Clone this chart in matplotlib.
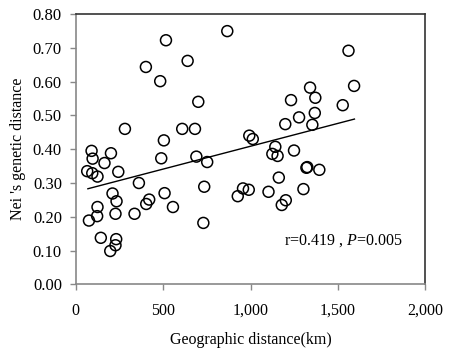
import numpy as np
import matplotlib
matplotlib.use("Agg")
import matplotlib.pyplot as plt
from matplotlib.ticker import FuncFormatter

geo_km = [65, 75, 90, 94, 96, 122, 124, 124, 143, 164, 197, 201, 210, 227, 227, 231,
          233, 243, 281, 336, 361, 401, 403, 420, 483, 489, 504, 508, 516, 556, 609,
          640, 682, 690, 701, 730, 735, 752, 867, 927, 957, 990, 993, 1013, 1103,
          1125, 1142, 1155, 1162, 1179, 1199, 1202, 1232, 1249, 1278, 1303, 1320,
          1325, 1341, 1354, 1368, 1371, 1394, 1528, 1561, 1593]
nei_dist = [0.335, 0.189, 0.395, 0.329, 0.372, 0.202, 0.229, 0.319, 0.138, 0.359,
            0.099, 0.388, 0.269, 0.116, 0.209, 0.134, 0.246, 0.333, 0.460, 0.209,
            0.300, 0.643, 0.238, 0.251, 0.601, 0.373, 0.426, 0.270, 0.722, 0.229,
            0.460, 0.661, 0.460, 0.378, 0.540, 0.182, 0.289, 0.362, 0.749, 0.261,
            0.284, 0.280, 0.440, 0.430, 0.274, 0.386, 0.407, 0.380, 0.316, 0.235,
            0.474, 0.249, 0.545, 0.396, 0.494, 0.282, 0.345, 0.347, 0.582, 0.472,
            0.507, 0.552, 0.339, 0.530, 0.691, 0.587]
trend_x = [69, 1595]
trend_y = [0.283, 0.489]
x_ticks = [0, 500, 1000, 1500, 2000]
y_ticks = [0.0, 0.1, 0.2, 0.3, 0.4, 0.5, 0.6, 0.7, 0.8]
annotation = "r=0.419 , $\\it{P}$=0.005"

plt.rcParams['font.family'] = ['Liberation Serif', 'DejaVu Serif']
plt.rcParams['mathtext.fontset'] = 'custom'
plt.rcParams['mathtext.it'] = 'Liberation Serif:italic'
plt.rcParams['mathtext.rm'] = 'Liberation Serif'

fig = plt.figure(figsize=(4.74, 3.51), dpi=100)
ax = fig.add_axes([0.160, 0.1895, 0.737, 0.771])

ax.scatter(geo_km, nei_dist, s=62, facecolors='none', edgecolors='black', linewidths=1.1, zorder=3)
ax.plot(trend_x, trend_y, color='black', linewidth=1.0, zorder=2)

ax.set_xlim(0, 2000)
ax.set_ylim(0, 0.8)
ax.set_xticks(x_ticks)
ax.set_yticks(y_ticks)
ax.xaxis.set_major_formatter(FuncFormatter(lambda v, p: f"{int(v):,}"))
ax.yaxis.set_major_formatter(FuncFormatter(lambda v, p: f"{v:.2f}"))
ax.tick_params(direction='out', length=4, width=1.0, colors='#888888', labelcolor='black')
ax.tick_params(axis='x', pad=9, labelsize=11.5)
ax.tick_params(axis='y', pad=6, labelsize=12)

for side in ['left', 'bottom']:
    ax.spines[side].set_color('#888888')
    ax.spines[side].set_linewidth(1.2)
for side in ['top', 'right']:
    ax.spines[side].set_color('#333333')
    ax.spines[side].set_linewidth(1.2)

ax.set_xlabel("Geographic distance(km)", fontsize=11.5, labelpad=10)
ax.set_ylabel("Nei 's genetic distance", fontsize=11.5, labelpad=5)

ax.text(1530, 0.131, annotation, fontsize=11.5, ha='center', va='center')

fig.savefig("out.png", dpi=100)
